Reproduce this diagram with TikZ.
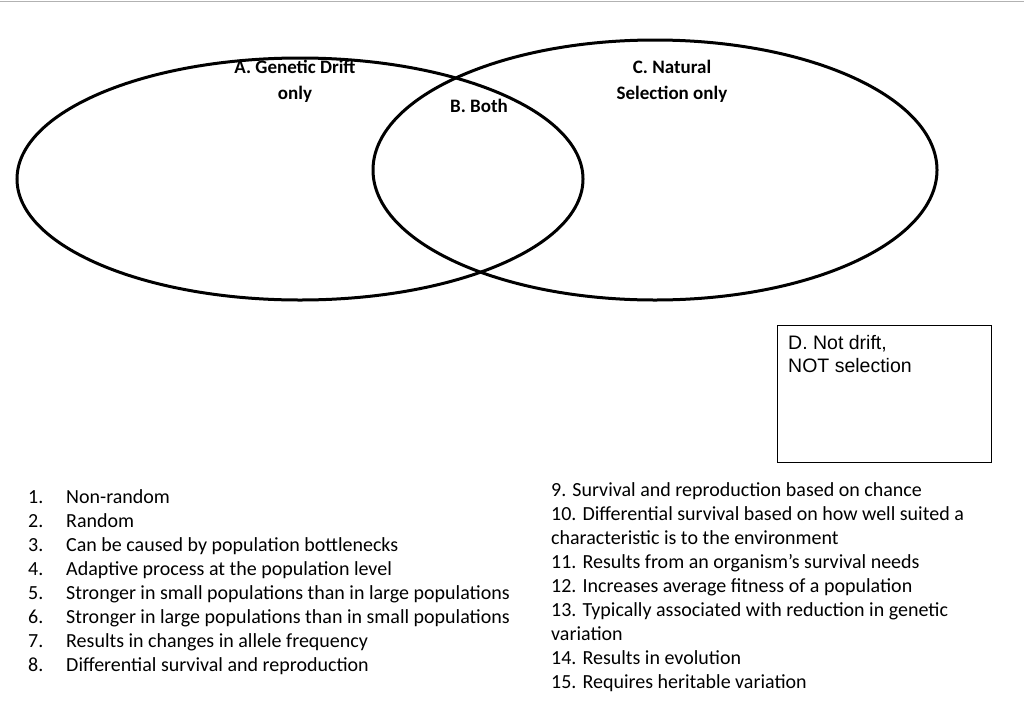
\documentclass[tikz,border=0pt]{standalone}
\usepackage{fontspec}
\setmainfont{Carlito}
\newfontfamily\arialf{Liberation Sans}
\begin{document}
\begin{tikzpicture}[x=1pt,y=-1pt,
  ell/.style={draw=black,line width=3pt},
  lab/.style={font=\bfseries\fontsize{19}{26}\selectfont,align=center,inner sep=0pt},
  item/.style={font=\fontsize{20}{24}\selectfont,anchor=base west,inner sep=0pt}]
\useasboundingbox (0,0) rectangle (1024,715);
\fill[white] (0,0) rectangle (1024,715);
\draw[gray!60,line width=1pt] (0,1.5) -- (1024,1.5);
\draw[ell] (300,179) ellipse [x radius=283, y radius=121];
\draw[ell] (655,170) ellipse [x radius=282, y radius=130];
\node[lab] (A) at (295,81) {A. Genetic Drift\\only};
\node[lab] (B) at (479,106) {B. Both};
\node[lab] (C) at (672,81) {C. Natural\\Selection only};
\node[draw=black,line width=1pt,minimum width=214pt,minimum height=137pt,anchor=north west] (D) at (777,325) {};
\node[font=\arialf\fontsize{19.5}{23}\selectfont,align=left,anchor=north west,inner sep=0pt] (Dt) at (788,335) {D. Not drift,\\NOT selection};
\foreach \n/\t [count=\i from 0] in {1/Non-random,2/Random,3/Can be caused by population bottlenecks,4/Adaptive process at the population level,5/Stronger in small populations than in large populations,6/Stronger in large populations than in small populations,7/Results in changes in allele frequency,8/Differential survival and reproduction}{
  \node[item] (n\n) at (28,503+24*\i) {\n.};
  \node[item] (t\n) at (66,503+24*\i) {\t};
}
\foreach \t [count=\i from 0] in {9. Survival and reproduction based on chance,10. Differential survival based on how well suited a,characteristic is to the environment,11. Results from an organism’s survival needs,12. Increases average fitness of a population,13. Typically associated with reduction in genetic,variation,14. Results in evolution,15. Requires heritable variation}{
  \node[item] (r\i) at (551,496+24*\i) {\t};
}
\end{tikzpicture}
\end{document}
